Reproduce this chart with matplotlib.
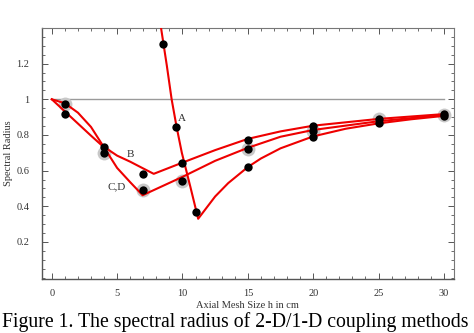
import numpy as np
import matplotlib
matplotlib.use('Agg')
from matplotlib import pyplot as plt, rcParams
from matplotlib.ticker import MultipleLocator

rcParams['font.family'] = ['Liberation Serif', 'DejaVu Serif']

# curve A: steep fall, then slow rise
a_x = [8.36, 8.8, 9.17, 9.55, 9.95, 10.6, 11.2, 12.5, 13.5, 15, 16, 17.5, 20, 22.5, 25, 27.5, 30]
a_y = [1.4, 1.19, 1.0, 0.845, 0.70, 0.51, 0.33, 0.455, 0.53, 0.62, 0.668, 0.725, 0.792, 0.835, 0.865, 0.888, 0.907]

# curve B
b_x = [0, 1, 2, 3, 3.82, 5, 6, 7, 7.8, 10, 12.5, 15, 17.5, 20, 25, 30]
b_y = [1.0, 0.932, 0.864, 0.796, 0.742, 0.684, 0.65, 0.612, 0.582, 0.645, 0.715, 0.778, 0.82, 0.852, 0.89, 0.917]

# curve C,D
cd_x = [0, 1, 2, 3, 4, 5, 6, 6.95, 10, 12.5, 15, 17.5, 20, 25, 30]
cd_y = [1.0, 0.978, 0.925, 0.845, 0.73, 0.615, 0.535, 0.462, 0.565, 0.655, 0.728, 0.79, 0.828, 0.877, 0.912]

# computed points
pt_x = [1, 1, 4, 4, 7, 7, 8.53, 9.5, 10, 10, 11, 15, 15, 15, 20, 20, 20, 25, 25, 30, 30]
pt_y = [0.976, 0.92, 0.73, 0.70, 0.58, 0.49, 1.308, 0.845, 0.643, 0.542, 0.369,
        0.774, 0.724, 0.62, 0.85, 0.822, 0.789, 0.89, 0.866, 0.917, 0.907]

# grey rings behind the D points
ring_x = [1, 4, 7, 10, 15, 20, 25, 30]
ring_y = [0.976, 0.70, 0.49, 0.542, 0.724, 0.822, 0.89, 0.912]

labels = [('A', 9.99, 0.895), ('B', 5.99, 0.69), ('C,D', 4.97, 0.51)]

fig = plt.figure(figsize=(4.74, 3.33), dpi=100)
ax = fig.add_axes([0.088, 0.161, 0.870, 0.755])

ax.plot([0, 30], [1, 1], color='#9a9a9a', lw=1.0, zorder=1)
for xs, ys in [(a_x, a_y), (b_x, b_y), (cd_x, cd_y)]:
    ax.plot(xs, ys, color='#ee0000', lw=1.5, zorder=3)
ax.plot(ring_x, ring_y, 'o', ms=10, color='#c8c8c8', mec='none', zorder=2)
ax.plot(pt_x, pt_y, 'o', ms=6, color='black', mec='none', zorder=4)

for txt, x, y in labels:
    ax.text(x, y, txt, fontsize=8, color='#333333', ha='center', va='center')

ax.set_xlim(-0.77, 30.78)
ax.set_ylim(-0.01, 1.4)
ax.xaxis.set_major_locator(MultipleLocator(5))
ax.xaxis.set_minor_locator(MultipleLocator(1))
ax.set_yticks([0.2, 0.4, 0.6, 0.8, 1.0, 1.2])
ax.set_yticklabels(['0.2', '0.4', '0.6', '0.8', '1', '1.2'])
ax.yaxis.set_minor_locator(MultipleLocator(0.05))
ax.tick_params(which='both', direction='in', top=True, right=True, colors='#555555',
               labelcolor='#333333', labelsize=7.5)
ax.tick_params(which='major', length=4, width=0.7)
ax.tick_params(which='minor', length=2, width=0.6)
ax.tick_params(axis='y', pad=9)
ax.tick_params(axis='x', pad=7)
for side in ['left', 'bottom']:
    ax.spines[side].set_color('#555555')
    ax.spines[side].set_linewidth(1.0)
for side in ['top', 'right']:
    ax.spines[side].set_color('#777777')
    ax.spines[side].set_linewidth(0.8)

ax.set_xlabel('Axial Mesh Size h in cm', fontsize=7.5, color='#333333', labelpad=2)
ax.set_ylabel('Spectral Radius', fontsize=7.5, color='#333333')
ax.yaxis.set_label_coords(-0.07, 0.5)

fig.text(0.004, 0.017, 'Figure 1. The spectral radius of 2-D/1-D coupling methods',
         fontsize=14.2, color='black', ha='left', va='baseline')

fig.savefig('out.png', dpi=100)
